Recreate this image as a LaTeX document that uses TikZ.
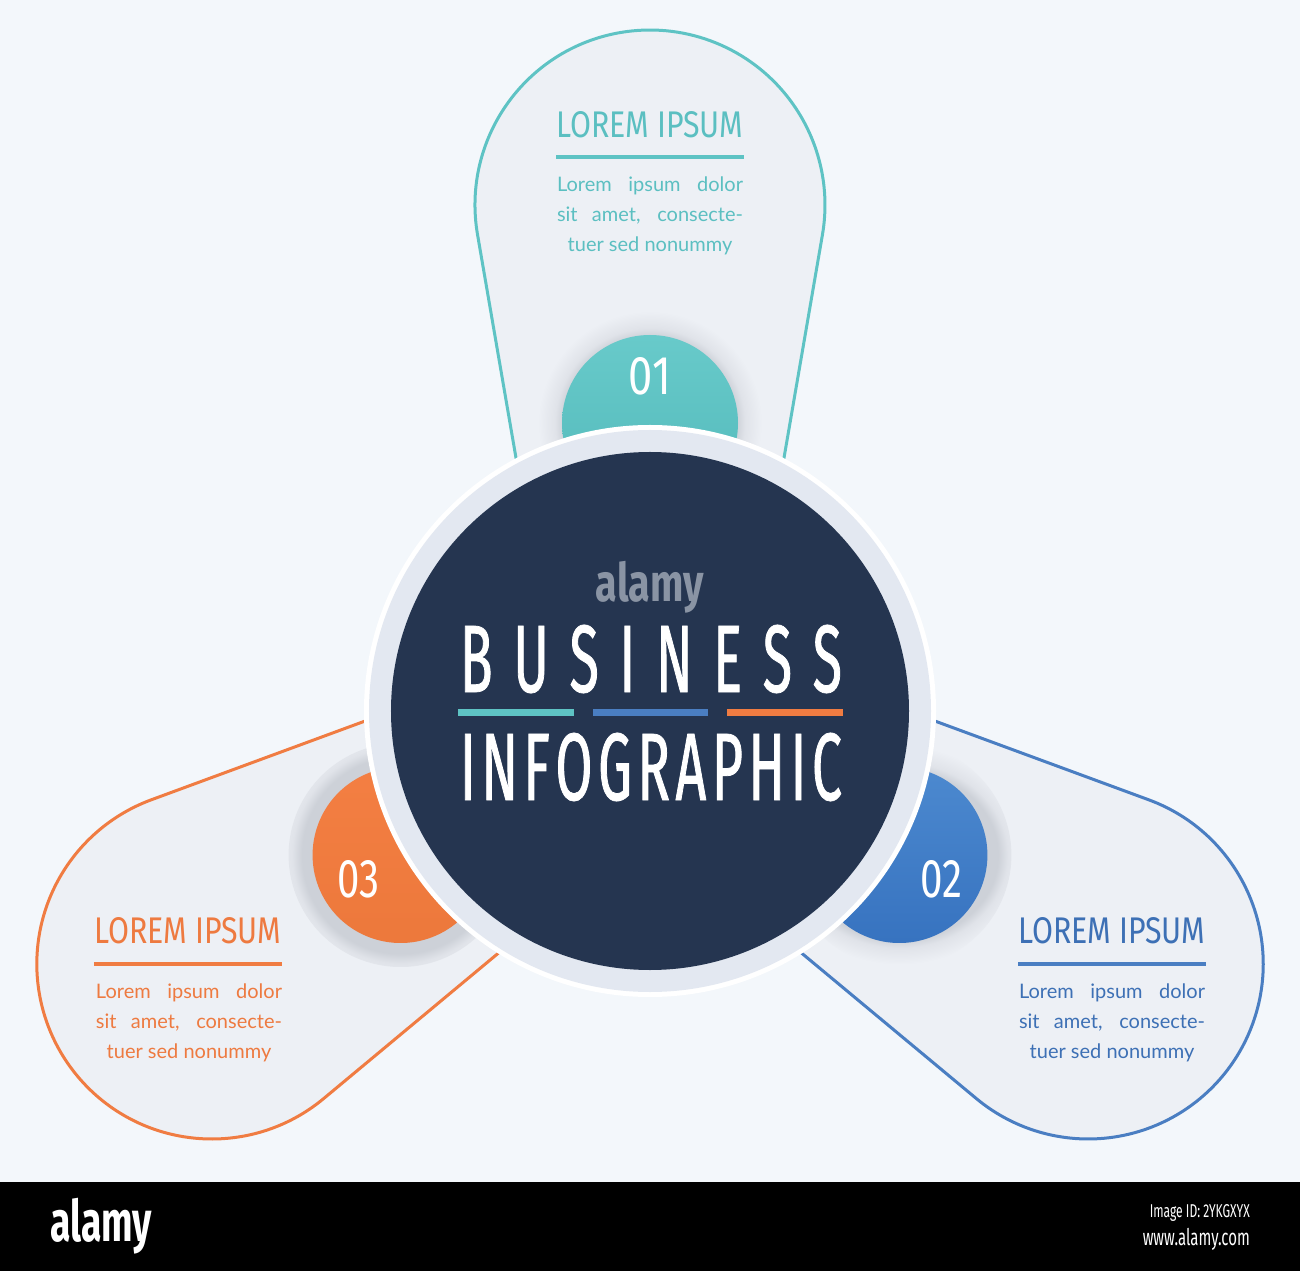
\documentclass[tikz,border=0pt]{standalone}
\usepackage{fontspec}
\usepackage{graphicx}
\setmainfont{Lato}
\newfontfamily\titlefont[FakeStretch=0.56, FakeBold=0.8]{Fira Sans}
\newfontfamily\logofont[FakeStretch=0.45]{Fira Sans}
\newfontfamily\headfont[FakeStretch=0.65]{Fira Sans}
\newfontfamily\bodyfont{Lato}
\definecolor{bg}{HTML}{F3F7FB}
\definecolor{petal}{HTML}{EDF0F5}
\definecolor{navy}{HTML}{253550}
\definecolor{ring}{HTML}{E3E8F1}
\definecolor{cteal}{HTML}{5EC3C4}
\definecolor{cblue}{HTML}{4A7EC2}
\definecolor{corange}{HTML}{F07C42}
\definecolor{tealL}{HTML}{68CACA}
\definecolor{tealD}{HTML}{52B9BA}
\definecolor{blueL}{HTML}{4C89CF}
\definecolor{blueD}{HTML}{3773C0}
\definecolor{orangeL}{HTML}{F47F43}
\definecolor{orangeD}{HTML}{EC783B}
\definecolor{tealtxt}{HTML}{5BBFC1}
\definecolor{bluetxt}{HTML}{3D70B5}
\definecolor{orangetxt}{HTML}{EE7A40}
\definecolor{wmgray}{HTML}{8A94A4}
\definecolor{shd}{HTML}{CDD1D8}
\definecolor{shdmid}{HTML}{E0E3E9}
\pgfdeclareradialshading{glow}{\pgfpoint{0bp}{0bp}}{color(0bp)=(shd); color(19.3bp)=(shd); color(21.2bp)=(shdmid); color(25bp)=(petal); color(50bp)=(petal)}
\tikzset{
  petalbase/.style={line width=3pt, fill=petal, line join=round},
  headtxt/.style={anchor=south, inner sep=0pt},
  bodytxt/.style={anchor=base, inner sep=0pt, font=\bodyfont\fontsize{20}{24}\selectfont},
  numtxt/.style={inner sep=0pt, text=white},
  rulebar/.style={line width=4pt},
  titlebar/.style={line width=7pt},
  titletxt/.style={anchor=base, inner sep=0pt, text=white, font=\titlefont\fontsize{95.8}{100}\selectfont},
}
\begin{document}
\begin{tikzpicture}[x=1pt,y=1pt]
\useasboundingbox (-650,-560) rectangle (650,711);
\fill[bg] (-650,-471) rectangle (650,711);
\fill[black] (-650,-560) rectangle (650,-471);
% petals
\foreach \ang/\col in {0/cteal, -120/cblue, 120/corange}{
  \begin{scope}[rotate=\ang]
    \draw[petalbase, draw=\col] (-90.4,0) -- (-172.46,476.3)
      arc[start angle=189.77, end angle=-9.77, radius=175]
      -- (90.4,0) -- cycle;
  \end{scope}
}
% number circles with glow
\foreach \ang/\lt/\dk in {0/tealL/tealD, -120/blueL/blueD, 120/orangeL/orangeD}{
  \begin{scope}[rotate=\ang]
    \shade[shading=glow] (0,288) circle[radius=112];
    \shade[top color=\lt, bottom color=\dk] (0,288) circle[radius=88];
  \end{scope}
}
% hub
\fill[white] (0,0) circle[radius=286];
\fill[ring] (0,0) circle[radius=281];
\fill[navy] (0,0) circle[radius=259];
% watermark in hub
\node[inner sep=0pt, text=wmgray] (wm) at (0,124) {\resizebox*{108pt}{52pt}{\logofont\bfseries alamy}};
% title
\node[titletxt] (biz) at (1,19) {\makebox[382pt]{B\hfill U\hfill S\hfill I\hfill N\hfill E\hfill S\hfill S}};
\node[titletxt] (info) at (1,-89) {\makebox[382pt]{I\hfill N\hfill F\hfill O\hfill G\hfill R\hfill A\hfill P\hfill H\hfill I\hfill C}};
\coordinate (b1a) at (-192,-1); \coordinate (b1b) at (-76,-1);
\coordinate (b2a) at (-57,-1);  \coordinate (b2b) at (58,-1);
\coordinate (b3a) at (77,-1);   \coordinate (b3b) at (193,-1);
\draw[titlebar, cteal] (b1a) -- (b1b);
\draw[titlebar, cblue] (b2a) -- (b2b);
\draw[titlebar, corange] (b3a) -- (b3b);
% numbers
\node[numtxt] (n1) at (90:335) {\resizebox{42pt}{37pt}{\headfont 01}};
\node[numtxt] (n2) at (-30:337) {\resizebox{42pt}{37pt}{\headfont 02}};
\node[numtxt] (n3) at (210:337) {\resizebox{42pt}{37pt}{\headfont 03}};
% top block
\node[headtxt, text=tealtxt] (h1) at (0,573) {\resizebox{187pt}{26pt}{\headfont LOREM IPSUM}};
\coordinate (r1a) at (-94,554); \coordinate (r1b) at (94,554);
\draw[rulebar, cteal] (r1a) -- (r1b);
\node[bodytxt, text=tealtxt] (t1a) at (0,519) {\makebox[186pt][s]{Lorem ipsum dolor}};
\node[bodytxt, text=tealtxt] (t1b) at (0,489) {\makebox[186pt][s]{sit amet, consecte-}};
\node[bodytxt, text=tealtxt] (t1c) at (0,459) {tuer sed nonummy};
% right block
\node[headtxt, text=bluetxt] (h2) at (462,-233) {\resizebox{187pt}{26pt}{\headfont LOREM IPSUM}};
\coordinate (r2a) at (368,-253); \coordinate (r2b) at (556,-253);
\draw[rulebar, cblue] (r2a) -- (r2b);
\node[bodytxt, text=bluetxt] (t2a) at (462,-287) {\makebox[186pt][s]{Lorem ipsum dolor}};
\node[bodytxt, text=bluetxt] (t2b) at (462,-317) {\makebox[186pt][s]{sit amet, consecte-}};
\node[bodytxt, text=bluetxt] (t2c) at (462,-347) {tuer sed nonummy};
% left block
\node[headtxt, text=orangetxt] (h3) at (-462,-233) {\resizebox{187pt}{26pt}{\headfont LOREM IPSUM}};
\coordinate (r3a) at (-556,-253); \coordinate (r3b) at (-368,-253);
\draw[rulebar, corange] (r3a) -- (r3b);
\node[bodytxt, text=orangetxt] (t3a) at (-461,-287) {\makebox[186pt][s]{Lorem ipsum dolor}};
\node[bodytxt, text=orangetxt] (t3b) at (-461,-317) {\makebox[186pt][s]{sit amet, consecte-}};
\node[bodytxt, text=orangetxt] (t3c) at (-461,-347) {tuer sed nonummy};
% footer bar
\node[inner sep=0pt, text=white, anchor=west] (logo) at (-600,-515) {\resizebox*{102pt}{56pt}{\logofont\bfseries alamy}};
\node[inner sep=0pt, text=white, anchor=east] (imgid) at (600,-502) {\resizebox{100pt}{!}{\headfont Image ID: 2YKGXYX}};
\node[inner sep=0pt, text=white, anchor=east] (www) at (600,-528) {\resizebox{107pt}{!}{\headfont www.alamy.com}};
\end{tikzpicture}
\end{document}
